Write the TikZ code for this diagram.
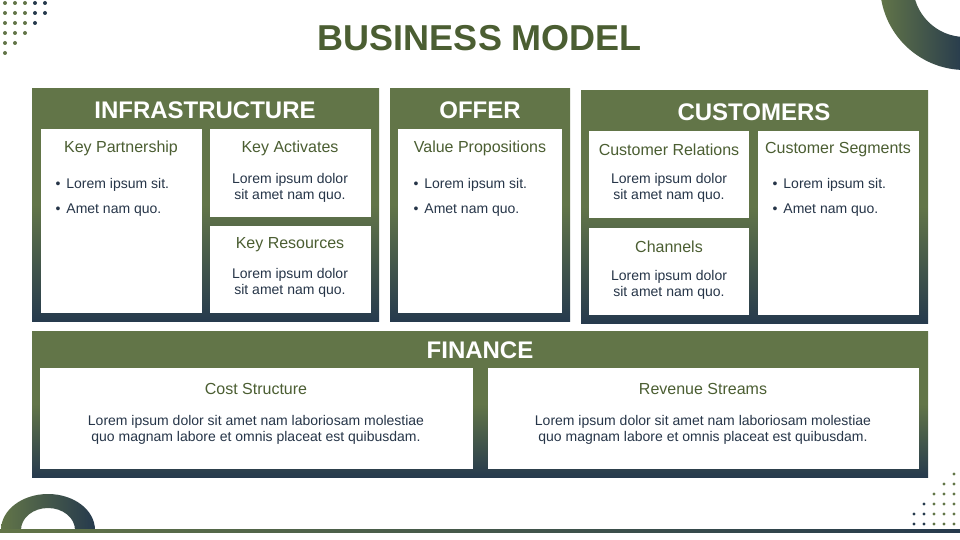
\documentclass[tikz,border=0pt]{standalone}
\usepackage{fontspec}
\setmainfont{Liberation Sans}
\usetikzlibrary{positioning}
\definecolor{bg}{HTML}{627548}
\definecolor{nv}{HTML}{263A4D}
\definecolor{tg}{HTML}{4B5E32}
\definecolor{tx}{HTML}{263548}
\begin{document}
\begin{tikzpicture}[x=1pt,y=-1pt,
 panel/.style={draw=none,top color=bg,bottom color=nv,middle color=bg},
 card/.style={fill=white,draw=none},
 hd/.style={text=white,font=\bfseries\fontsize{24}{26}\selectfont,anchor=center},
 ttl/.style={text=tg,font=\fontsize{16}{18}\selectfont,anchor=center},
 bd/.style={text=tx,font=\fontsize{14}{16}\selectfont,align=center,anchor=center},
 bl/.style={text=tx,font=\fontsize{14}{16}\selectfont,anchor=west}]
\useasboundingbox (0,0) rectangle (960,540);
\fill[white] (0,0) rectangle (960,540);
% decorations
\foreach \r/\n in {0/5,1/5,2/4,3/3,4/2,5/1}{
  \foreach \c in {1,...,\n}{
    \pgfmathsetmacro\xx{5+10*(\c-1)}
    \ifnum\c>3 \fill[nv] (\xx,3+10*\r) circle (2); \else \fill[bg] (\xx,3+10*\r) circle (2);\fi
  }}
\foreach \r/\n in {0/1,1/2,2/3,3/4,4/5,5/5}{
  \foreach \c in {1,...,\n}{
    \pgfmathsetmacro\xx{954-10*(\c-1)}
    \ifnum\c>3 \fill[nv] (\xx,474+10*\r) circle (1.7); \else \fill[bg] (\xx,474+10*\r) circle (1.7);\fi
  }}
\shade[left color=bg,right color=nv] (880,-15) arc[start angle=180,end angle=90,radius=85] -- (965,37) arc[start angle=90,end angle=180,radius=52] -- cycle;
\shade[left color=bg,right color=nv] (1,530) arc[start angle=180,end angle=360,x radius=47,y radius=36] -- (75,530) arc[start angle=360,end angle=180,x radius=27,y radius=22] -- cycle;
\shade[left color=bg,right color=nv] (0,529) rectangle (960,532);
% title
\node[text=tg,font=\bfseries\fontsize{36}{40}\selectfont] (title) at (480,38) {BUSINESS MODEL};
% panels
\shade[panel] (32,89) rectangle (379,321);
\shade[panel] (390,89) rectangle (570,321);
\shade[panel] (581,91) rectangle (928,323);
\shade[panel] (32,331) rectangle (928,477);
\node[hd] (hinf) at (205,110) {INFRASTRUCTURE};
\node[hd] (hoff) at (480,110) {OFFER};
\node[hd] (hcus) at (754,112) {CUSTOMERS};
\node[hd] (hfin) at (480,350) {FINANCE};
% cards
\fill[card] (41,129) rectangle (202,313);
\fill[card] (210,129) rectangle (371,217);
\fill[card] (210,226) rectangle (371,313);
\fill[card] (398,129) rectangle (562,313);
\fill[card] (589,131) rectangle (749,218);
\fill[card] (589,228) rectangle (749,315);
\fill[card] (758,131) rectangle (919,315);
\fill[card] (40,368) rectangle (473,469);
\fill[card] (488,368) rectangle (919,469);
% texts
\node[ttl] (kp) at (121,148) {Key Partnership};
\node[bl] (kp1) at (52,185) {\textbullet\hspace{6pt}Lorem ipsum sit.};
\node[bl] (kp2) at (52,210) {\textbullet\hspace{6pt}Amet nam quo.};
\node[ttl] (ka) at (290,148) {Key Activates};
\node[bd] (kab) at (290,188) {Lorem ipsum dolor\\sit amet nam quo.};
\node[ttl] (kr) at (290,245) {Key Resources};
\node[bd] (krb) at (290,283) {Lorem ipsum dolor\\sit amet nam quo.};
\node[ttl] (vp) at (480,148) {Value Propositions};
\node[bl] (vp1) at (410,185) {\textbullet\hspace{6pt}Lorem ipsum sit.};
\node[bl] (vp2) at (410,210) {\textbullet\hspace{6pt}Amet nam quo.};
\node[ttl] (cr) at (669,150) {Customer Relations};
\node[bd] (crb) at (669,188) {Lorem ipsum dolor\\sit amet nam quo.};
\node[ttl] (ch) at (669,247) {Channels};
\node[bd] (chb) at (669,285) {Lorem ipsum dolor\\sit amet nam quo.};
\node[ttl] (cs) at (838,150) {Customer Segments};
\node[bl] (cs1) at (769,185) {\textbullet\hspace{6pt}Lorem ipsum sit.};
\node[bl] (cs2) at (769,210) {\textbullet\hspace{6pt}Amet nam quo.};
\node[ttl] (cst) at (256,389) {Cost Structure};
\node[bd] (cstb) at (256,430) {Lorem ipsum dolor sit amet nam laboriosam molestiae\\quo magnam labore et omnis placeat est quibusdam.};
\node[ttl] (rs) at (703,389) {Revenue Streams};
\node[bd] (rsb) at (703,430) {Lorem ipsum dolor sit amet nam laboriosam molestiae\\quo magnam labore et omnis placeat est quibusdam.};
\end{tikzpicture}
\end{document}
